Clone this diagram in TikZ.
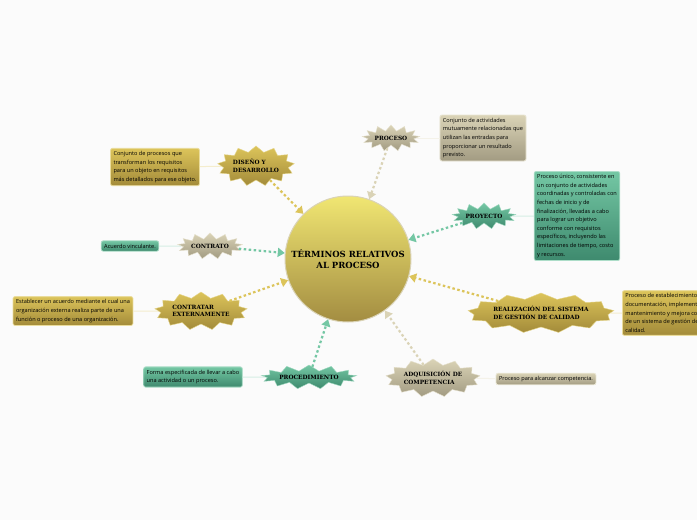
\documentclass[tikz,border=0pt]{standalone}
\usepackage{fontspec}
\setmainfont{Open Sans}
\newfontfamily\lab{DejaVu Serif}
\usetikzlibrary{shapes.symbols,arrows.meta}
\definecolor{goldA}{HTML}{DCC45A}\definecolor{goldB}{HTML}{A38B3A}
\definecolor{tanA}{HTML}{DAD3B6}\definecolor{tanB}{HTML}{A29B82}
\definecolor{grnA}{HTML}{74C7A4}\definecolor{grnB}{HTML}{3E8A6E}
\definecolor{bg}{HTML}{FBFBFB}
\tikzset{
 x=1pt,y=-1pt,
 burst/.style={starburst,starburst points=13,starburst point height=6pt,random starburst=0,inner sep=0pt,align=left,font=\lab\bfseries\fontsize{5.8}{7.5}\selectfont},
 desc/.style={rounded corners=2pt,draw=#1A!60!white,line width=0.8pt,top color=#1A,bottom color=#1B,align=left,font=\fontsize{5.6}{8.6}\selectfont,inner sep=3pt},
 g/.style={top color=goldA,bottom color=goldB,draw=goldA!70!white},
 t/.style={top color=tanA,bottom color=tanB,draw=tanA!70!white},
 v/.style={top color=grnA,bottom color=grnB,draw=grnA!70!white},
 arr/.style={line width=2.2pt,dash pattern=on 2.5pt off 2.5pt,-{Triangle[length=7pt,width=9pt]}},
 lk/.style={line width=1pt,draw=#1!30!white},
}
\begin{document}
\begin{tikzpicture}
\useasboundingbox[fill=bg] (0,0) rectangle (697,520);
\node[circle,minimum size=126pt,top color=goldA!60!yellow!70!white,bottom color=goldB!90!tanB,draw=tanA,line width=1pt,align=center,font=\lab\bfseries\fontsize{8.5}{11}\selectfont] (c) at (348,259) {TÉRMINOS RELATIVOS\\AL PROCESO};
% bursts
\node[burst,g,minimum width=56pt,minimum height=40pt] (dis) at (256,166) {DISEÑO Y\\DESARROLLO};
\node[burst,t,minimum width=44pt,minimum height=26pt] (pro) at (391,138) {PROCESO};
\node[burst,v,minimum width=46pt,minimum height=26pt] (pry) at (484,216) {PROYECTO};
\node[burst,t,minimum width=48pt,minimum height=26pt] (con) at (210,246) {CONTRATO};
\node[burst,g,minimum width=68pt,minimum height=38pt] (ext) at (201,311) {CONTRATAR\\EXTERNAMENTE};
\node[burst,g,minimum width=108pt,minimum height=40pt] (rea) at (541,313) {REALIZACIÓN DEL SISTEMA\\DE GESTIÓN DE CALIDAD};
\node[burst,t,minimum width=64pt,minimum height=38pt] (adq) at (433,378) {ADQUISICIÓN DE\\COMPETENCIA};
\node[burst,v,minimum width=66pt,minimum height=24pt] (prc) at (309,377) {PROCEDIMIENTO};
% descriptions
\node[desc=gold] (ddis) at (155,167) {Conjunto de procesos que\\transforman los requisitos\\para un objeto en requisitos\\más detallados para ese objeto.};
\node[desc=tan] (dpro) at (483,138) {Conjunto de actividades\\mutuamente relacionadas que\\utilizan las entradas para\\proporcionar un resultado\\previsto.};
\node[desc=grn] (dpry) at (577,216) {Proceso único, consistente en\\un conjunto de actividades\\coordinadas y controladas con\\fechas de inicio y de\\finalización, llevadas a cabo\\para lograr un objetivo\\conforme con requisitos\\específicos, incluyendo las\\limitaciones de tiempo, costo\\y recursos.};
\node[desc=grn] (dcon) at (130,246) {Acuerdo vinculante.};
\node[desc=gold] (dext) at (73,311) {Establecer un acuerdo mediante el cual una\\organización externa realiza parte de una\\función o proceso de una organización.};
\node[desc=gold,anchor=west] (drea) at (622,313) {Proceso de establecimiento,\\documentación, implementación,\\mantenimiento y mejora continua\\de un sistema de gestión de la\\calidad.};
\node[desc=tan] (dadq) at (546,379) {Proceso para alcanzar competencia.};
\node[desc=grn] (dprc) at (193,377) {Forma especificada de llevar a cabo\\una actividad o un proceso.};
% links
\draw[lk=goldA] (ddis) -- (dis); \draw[lk=tanA] (dpro) -- (pro);
\draw[lk=grnA] (dpry) -- (pry); \draw[lk=grnA] (dcon) -- (con);
\draw[lk=goldA] (dext) -- (ext); \draw[lk=goldA] (drea) -- (rea);
\draw[lk=tanA] (dadq) -- (adq); \draw[lk=grnA] (dprc) -- (prc);
% arrows
\draw[arr,goldA] (dis) -- (c); \draw[arr,tanA] (pro) -- (c);
\draw[arr,grnA] (pry) -- (c); \draw[arr,grnA] (con) -- (c);
\draw[arr,goldA] (ext) -- (c); \draw[arr,goldA] (rea) -- (c);
\draw[arr,tanA] (adq) -- (c); \draw[arr,grnA] (prc) -- (c);
\end{tikzpicture}
\end{document}
